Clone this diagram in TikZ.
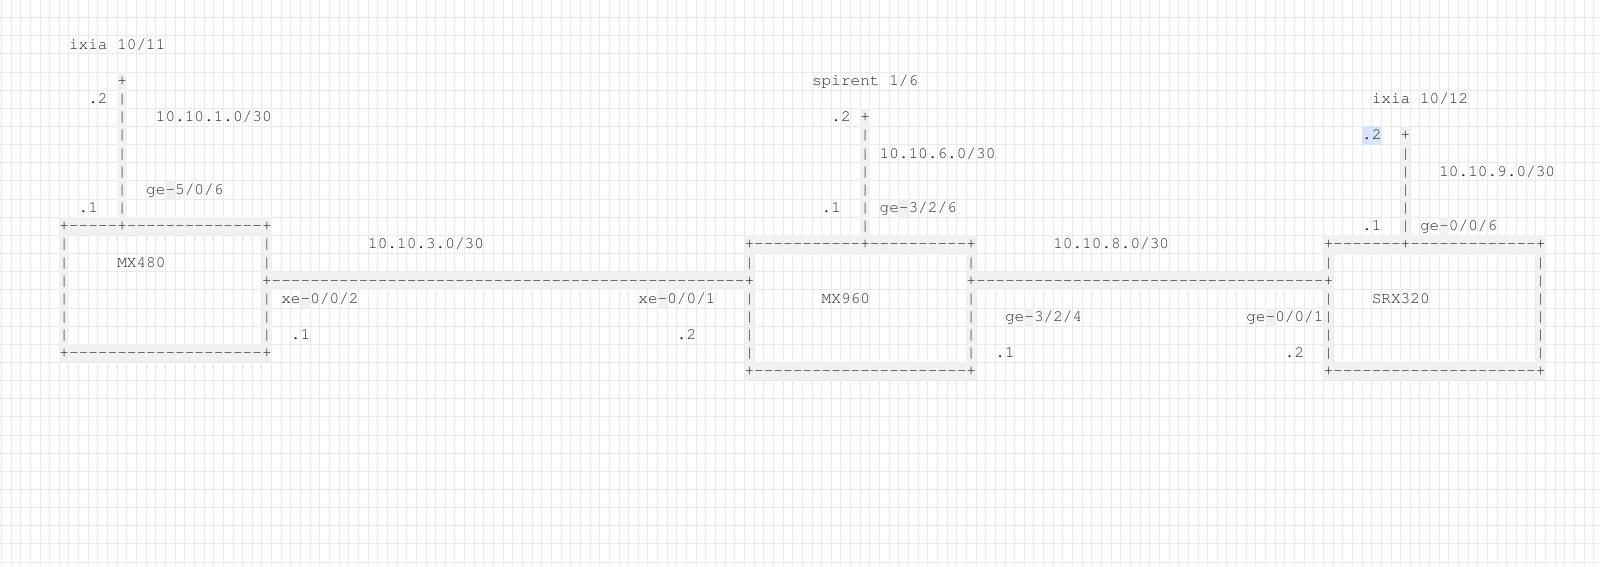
\documentclass[tikz,border=0pt]{standalone}
\usepackage[T1]{fontenc}
\usepackage{tikz}

\definecolor{inkgray}{RGB}{42,42,42}
\definecolor{wiregray}{RGB}{241,241,241}
\definecolor{gridgray}{RGB}{234,234,234}
\definecolor{pickblue}{RGB}{214,230,248}

\newcommand{\asciifont}{\fontencoding{T1}\fontfamily{pcr}\fontseries{m}\fontshape{n}\fontsize{16.0833pt}{18pt}\selectfont}
\newcommand{\dashes}[1]{\foreach \d in {1,...,#1}{-}}

\begin{document}
\begin{tikzpicture}[x=9.65pt,y=-18.15pt,
    ascii/.style={font=\asciifont,text=inkgray,inner sep=0pt,
                  text height=13.575pt,text depth=4.575pt,anchor=west},
    wire/.style={ascii,fill=wiregray}]
  \tikzstyle{gridline}=[draw=gridgray,line width=0.7pt]

  \useasboundingbox (-6.632,-4.463) rectangle (159.171,26.722);
  \fill[white] (-6.632,-4.463) rectangle (159.171,26.722);

  % background grid, one cell per character
  \foreach \c in {-7,...,158}
    \draw[gridline] (\c+0.5,-4.463) -- (\c+0.5,26.722);
  \foreach \r in {-5,...,26}
    \draw[gridline] (-6.632,\r+0.5) -- (159.171,\r+0.5);

  % shaded dash cells inside the port names
  \foreach \c/\r in {11/6,25/12,62/12,87/7,100/13,125/13,143/8}
    \fill[wiregray] (\c-0.5,\r-0.5) rectangle (\c+0.5,\r+0.5);

  % MX480 and its uplink
  \node[ascii] (ixiaA) at (0.5,-2) {ixia 10/11};
  \node[wire]  (upA0)  at (5.5,0) {+};
  \foreach \r in {1,...,7}
    \node[wire] (upA\r) at (5.5,\r) {|};
  \node[ascii] (ipA2)  at (2.5,1) {.2};
  \node[ascii] (netA)  at (9.5,2) {10.10.1.0/30};
  \node[ascii] (portA) at (8.5,6) {ge-5/0/6};
  \node[ascii] (ipA1)  at (1.5,7) {.1};

  \node[wire] (mxAtop) at (-0.5,8) {+\dashes{5}+\dashes{14}+};
  \foreach \r in {9,...,14}
    \node[wire] (mxAl\r) at (-0.5,\r) {|};
  \foreach \r in {9,10,12,13,14}
    \node[wire] (mxAr\r) at (20.5,\r) {|};
  \node[wire] (mxAbot) at (-0.5,15) {+\dashes{20}+};
  \node[ascii] (mxA) at (5.5,10) {MX480};

  % MX480 -- MX960
  \node[wire]  (linkB)  at (20.5,11) {+\dashes{49}+};
  \node[ascii] (netB)   at (31.5,9) {10.10.3.0/30};
  \node[ascii] (portB1) at (22.5,12) {xe-0/0/2};
  \node[ascii] (portB2) at (59.5,12) {xe-0/0/1};
  \node[ascii] (ipB1)   at (23.5,14) {.1};
  \node[ascii] (ipB2)   at (63.5,14) {.2};

  % MX960 and its uplink
  \node[ascii] (spirent) at (77.5,0) {spirent 1/6};
  \node[wire]  (upC2)    at (82.5,2) {+};
  \foreach \r in {3,...,8}
    \node[wire] (upC\r) at (82.5,\r) {|};
  \node[ascii] (ipC2)  at (79.5,2) {.2};
  \node[ascii] (netC)  at (84.5,4) {10.10.6.0/30};
  \node[ascii] (ipC1)  at (78.5,7) {.1};
  \node[ascii] (portC) at (84.5,7) {ge-3/2/6};

  \node[wire] (mxBtop) at (70.5,9) {+\dashes{11}+\dashes{10}+};
  \foreach \r in {10,12,13,14,15} {
    \node[wire] (mxBl\r) at (70.5,\r) {|};
    \node[wire] (mxBr\r) at (93.5,\r) {|};
  }
  \node[wire] (mxBbot) at (70.5,16) {+\dashes{22}+};
  \node[ascii] (mxB) at (78.5,12) {MX960};

  % MX960 -- SRX320
  \node[wire]  (linkD)  at (93.5,11) {+\dashes{36}+};
  \node[ascii] (netD)   at (102.5,9) {10.10.8.0/30};
  \node[ascii] (portD1) at (97.5,13) {ge-3/2/4};
  \node[ascii] (portD2) at (122.5,13) {ge-0/0/1};
  \node[ascii] (ipD1)   at (96.5,15) {.1};
  \node[ascii] (ipD2)   at (126.5,15) {.2};

  % SRX320 and its uplink
  \node[ascii] (ixiaE) at (135.5,1) {ixia 10/12};
  \node[wire]  (upE3)  at (138.5,3) {+};
  \foreach \r in {4,...,8}
    \node[wire] (upE\r) at (138.5,\r) {|};
  \node[ascii,fill=pickblue] (ipE2) at (134.5,3) {.2};
  \node[ascii] (netE)  at (142.5,5) {10.10.9.0/30};
  \node[ascii] (ipE1)  at (134.5,8) {.1};
  \node[ascii] (portE) at (140.5,8) {ge-0/0/6};

  \node[wire] (srxtop) at (130.5,9) {+\dashes{7}+\dashes{13}+};
  \foreach \r in {10,12,13,14,15}
    \node[wire] (srxl\r) at (130.5,\r) {|};
  \foreach \r in {10,...,15}
    \node[wire] (srxr\r) at (152.5,\r) {|};
  \node[wire] (srxbot) at (130.5,16) {+\dashes{21}+};
  \node[ascii] (srx) at (135.5,12) {SRX320};

\end{tikzpicture}
\end{document}
